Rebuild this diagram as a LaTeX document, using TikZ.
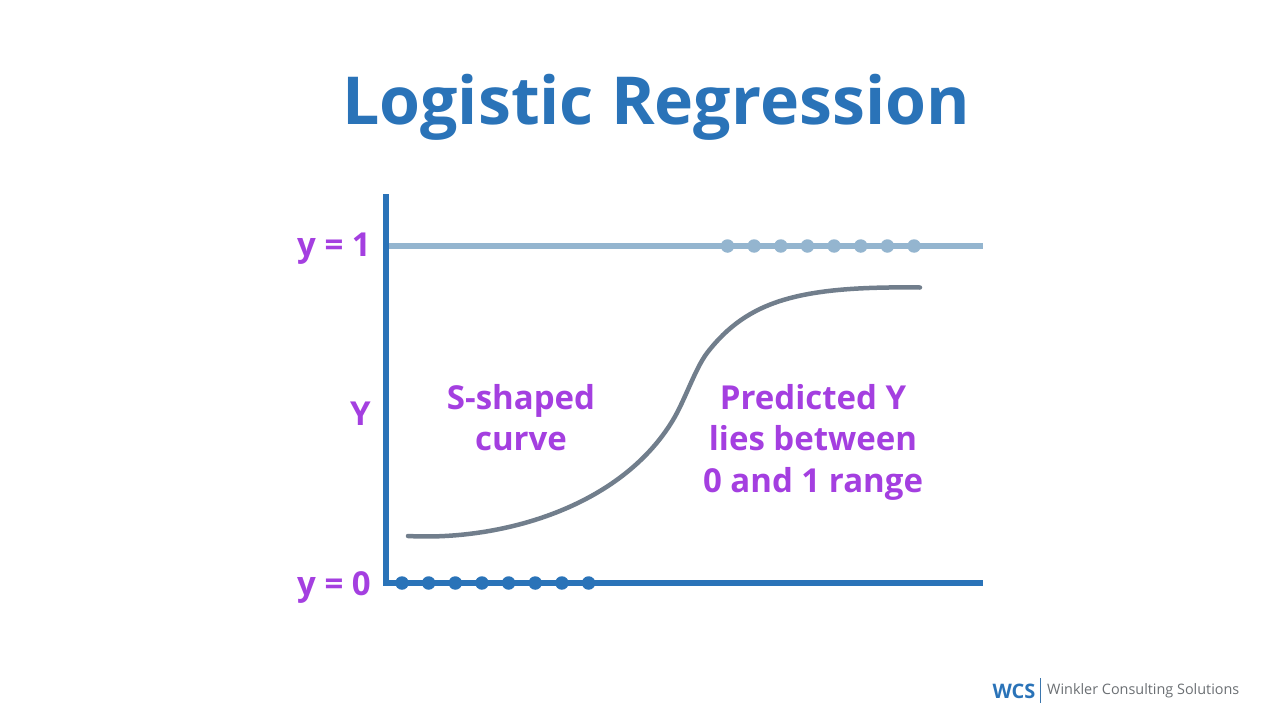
\documentclass[tikz,border=0pt]{standalone}
\usepackage{fontspec}
\setmainfont{Open Sans}
\definecolor{wcsblue}{HTML}{2A73B8}
\definecolor{lineblue}{HTML}{94B5CF}
\definecolor{labelpurple}{HTML}{A43FE0}
\definecolor{curvegray}{HTML}{717E8C}
\definecolor{wcsgray}{HTML}{6B6F73}
\tikzset{
  label text/.style={color=labelpurple, font=\fontsize{33}{41.5}\selectfont\bfseries, align=center, inner sep=0pt},
  dot low/.style={circle, fill=wcsblue, inner sep=0pt, minimum size=13.5pt},
  dot high/.style={circle, fill=lineblue, inner sep=0pt, minimum size=13.5pt}
}
\begin{document}
\begin{tikzpicture}[x=1pt, y=-1pt]
    \useasboundingbox (0,0) rectangle (1280,720);
    % Title
    \node[color=wcsblue, font=\fontsize{66.2}{76}\selectfont\bfseries, inner sep=0pt] (title) at (656,107) {Logistic Regression};
    % Axes
    \coordinate (top) at (385.5,194);
    \coordinate (origin) at (385.5,583);
    \coordinate (right) at (983,583);
    \coordinate (one) at (385.5,246);
    \coordinate (oneright) at (983,246);
    \draw[lineblue, line width=6pt] (one) -- (oneright);
    \draw[wcsblue, line width=6pt, line join=miter] (top) -- (origin) -- (right);
    % Points on both lines
    \foreach \i in {0,...,7} {
      \node[dot low] (low\i) at ({402+26.65*\i},583) {};
      \node[dot high] (high\i) at ({727.5+26.65*\i},246) {};
    }
    % S curve
    \coordinate (start) at (408,536);
    \coordinate (lower) at (673,420);
    \coordinate (upper) at (707,353);
    \coordinate (end) at (920,287.5);
    \draw[curvegray, line width=4.5pt, line cap=round] (start)
      .. controls (500,541) and (620,508) .. (lower)
      .. controls (685,400) and (695,369) .. (upper)
      .. controls (748,300) and (800,286) .. (end);
    % Labels
    \node[label text] (yone) at (334,248.5) {y = 1};
    \node[label text] (yzero) at (334,587) {y = 0};
    \node[label text] (yaxis) at (360.5,414) {Y};
    \node[label text] (scurve) at (521,417.5) {S-shaped\\curve};
    \node[label text] (predicted) at (813,442) {Predicted Y\\lies between\\0 and 1 range};
    % Logo
    \node[color=wcsblue, font=\fontsize{20}{22}\selectfont\bfseries, inner sep=0pt] (wcs) at (1014,691) {WCS};
    \node[color=wcsgray, font=\fontsize{14.4}{18}\selectfont, inner sep=0pt, anchor=west] (firm) at (1047,691) {Winkler Consulting Solutions};
    \coordinate (bartop) at (1040.5,678);
    \coordinate (barbottom) at (1040.5,703);
    \draw[wcsblue!80!gray, line width=1.5pt] (bartop) -- (barbottom);
\end{tikzpicture}
\end{document}
